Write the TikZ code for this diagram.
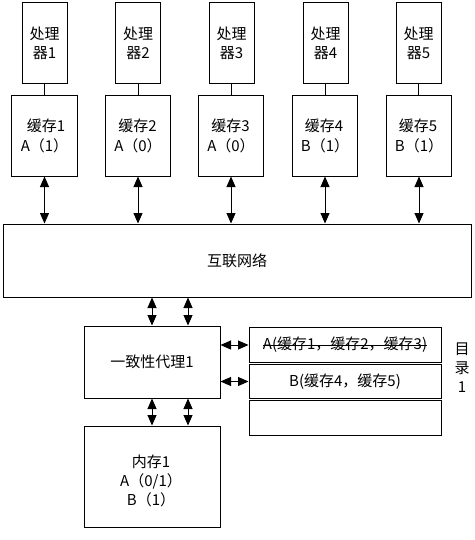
\documentclass[tikz,border=0pt]{standalone}
\usepackage{fontspec}
\setmainfont{Noto Sans CJK SC}
\usetikzlibrary{arrows.meta}
\begin{document}
\begin{tikzpicture}[x=1pt,y=-1pt,
  box/.style={draw, line width=1pt, inner sep=0pt, align=center, font=\fontsize{15}{19.5}\selectfont},
  txt/.style={inner sep=0pt, align=center, font=\fontsize{15}{19}\selectfont},
  proc/.style={box, minimum width=45pt, minimum height=81pt},
  cache/.style={box, align=left, minimum width=65.5pt, minimum height=80pt},
  dirrow/.style={box, minimum width=192pt, minimum height=34.5pt},
  link/.style={line width=1pt},
  arr/.style={{Triangle[length=10.5pt,width=9pt]}-{Triangle[length=10.5pt,width=9pt]}, line width=1pt}]
\useasboundingbox (0,0) rectangle (474,540);

% processors
\node[proc] (p1) at (44.5,43.5) {处理\\器1};
\node[proc] (p2) at (138,43.5) {处理\\器2};
\node[proc] (p3) at (231.5,43.5) {处理\\器3};
\node[proc] (p4) at (325.5,43.5) {处理\\器4};
\node[proc] (p5) at (418.5,43.5) {处理\\器5};

% caches
\node[cache] (c1) at (44.5,136) {\hspace*{6pt}缓存1\\A（1）};
\node[cache] (c2) at (138,136) {\hspace*{4pt}缓存2\\A（0）};
\node[cache] (c3) at (231,136) {\hspace*{4pt}缓存3\\A（0）};
\node[cache] (c4) at (325,136) {\hspace*{4pt}缓存4\\B（1）};
\node[cache] (c5) at (419,136) {\hspace*{4pt}缓存5\\B（1）};

\foreach \i in {1,...,5}{
  \draw[link] (p\i.south) -- (p\i.south |- c\i.north);
}

% network
\node[box, minimum width=468pt, minimum height=73pt] (net) at (237,260.5) {互联网络};
\foreach \i in {1,...,5}{
  \draw[arr] (c\i.south) -- (c\i.south |- net.north);
}

% coherence agent
\node[box, minimum width=136pt, minimum height=72pt] (ag) at (152,362) {一致性代理1};
\draw[arr] (ag.north) -- (ag.north |- net.south);
\draw[arr] ([xshift=36pt]ag.north) -- ([xshift=36pt]ag.north |- net.south);

% directory
\node[dirrow] (d1) at (345,345) {};
\node[dirrow] (d2) at (345,381.5) {};
\node[dirrow] (d3) at (345,418) {};
\node[txt] (t1) at (d1) {A(缓存1，缓存2，缓存3)};
\draw[link] (t1.west) -- (t1.east);
\node[txt] (t2) at (d2) {B(缓存4，缓存5)};
\node[txt] (dl) at (462,367.5) {目\\录\\1};
\draw[arr] (d1.west -| ag.east) -- (d1.west);
\draw[arr] (d2.west -| ag.east) -- (d2.west);

% memory
\node[box, minimum width=136pt, minimum height=101pt] (mem) at (152,476.5) {};
\node[txt] (mt) at (151,481) {内存1\\A（0/1）\\B（1）};
\draw[arr] (mem.north) -- (mem.north |- ag.south);
\draw[arr] ([xshift=36pt]mem.north) -- ([xshift=36pt]mem.north |- ag.south);
\end{tikzpicture}
\end{document}
